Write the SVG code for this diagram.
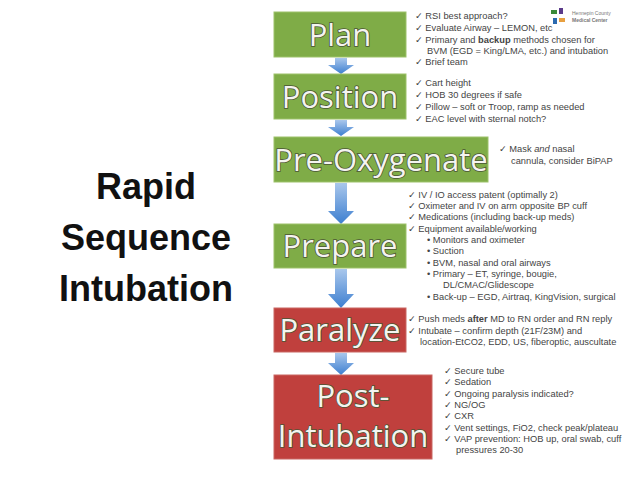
<svg xmlns="http://www.w3.org/2000/svg" width="638" height="479" viewBox="0 0 638 479">
<style>
.g{fill:#7fac47;stroke:#9dc26a;stroke-width:1}
.r{fill:#c0403d;stroke:#c96663;stroke-width:1}
.lbl{font-family:"Open Sans","Liberation Sans",sans-serif;font-size:31px;fill:#f4f4f0;stroke:#4a5535;stroke-width:1.6;paint-order:stroke;text-anchor:middle}
.t{font-family:"Liberation Sans","DejaVu Sans",sans-serif;font-size:9.3px;fill:#444}
.title{font-family:"Liberation Sans",sans-serif;font-size:36px;font-weight:bold;fill:#111;text-anchor:middle}
.ar{fill:url(#bg)}
</style>
<defs>
<linearGradient id="bg" x1="0" y1="0" x2="0" y2="1"><stop offset="0" stop-color="#a9c7ec"/><stop offset="1" stop-color="#3d7fd0"/></linearGradient>
</defs>
<rect width="638" height="479" fill="#fff"/>
<g id="title"><text class="title" x="146" y="199">Rapid</text><text class="title" x="146" y="250">Sequence</text><text class="title" x="146" y="301">Intubation</text></g>
<g id="connectors">
<path class="ar" d="M335 58h12v7h7l-13 9-13-9h7z"/>
<path class="ar" d="M335 120h12v7h7l-13 9-13-9h7z"/>
<path class="ar" d="M335 183h12v28h7l-13 13-13-13h7z"/>
<path class="ar" d="M335 269h12v25h7l-13 14-13-14h7z"/>
<path class="ar" d="M335 353h12v10h7l-13 12-13-12h7z"/>
</g>
<g id="plan"><rect class="g" x="274" y="12" width="132" height="45"/><text class="lbl" x="340" y="46">Plan</text></g>
<g id="position"><rect class="g" x="274" y="74" width="132" height="45"/><text class="lbl" x="340" y="108">Position</text></g>
<g id="preox"><rect class="g" x="274" y="137" width="214" height="45"/><text class="lbl" x="381" y="171">Pre-Oxygenate</text></g>
<g id="prepare"><rect class="g" x="274" y="224" width="132" height="44"/><text class="lbl" x="340" y="257">Prepare</text></g>
<g id="paralyze"><rect class="r" x="274" y="308" width="132" height="44"/><text class="lbl" x="340" y="341">Paralyze</text></g>
<g id="post"><rect class="r" x="274" y="375" width="158" height="84"/><text class="lbl" x="353" y="407">Post-</text><text class="lbl" x="353" y="447">Intubation</text></g>
<g id="logo">
<rect x="551" y="10" width="6" height="4" fill="#3a8a3a"/><rect x="559" y="8" width="4" height="6" fill="#5a3a8a"/>
<rect x="553" y="18" width="4" height="6" fill="#2a6ab0"/><rect x="559" y="18" width="6" height="4" fill="#e8a040"/>
<text x="572" y="15" font-family="Liberation Sans,sans-serif" font-size="5px" fill="#777">Hennepin County</text>
<text x="572" y="22" font-family="Liberation Sans,sans-serif" font-size="5px" font-weight="bold" fill="#777">Medical Center</text>
</g>
<g class="t">
<text x="415" y="19">✓  RSI best approach?</text>
<text x="415" y="31">✓  Evaluate Airway – LEMON, etc</text>
<text x="415" y="43">✓  Primary and <tspan font-weight="bold">backup</tspan> methods chosen for</text>
<text x="427" y="54">BVM (EGD = King/LMA, etc.) and intubation</text>
<text x="415" y="65">✓  Brief team</text>
<text x="415" y="86">✓  Cart height</text>
<text x="415" y="98">✓  HOB 30 degrees  if safe</text>
<text x="415" y="110">✓  Pillow – soft or Troop, ramp as needed</text>
<text x="415" y="122">✓  EAC level with sternal notch?</text>
<text x="499" y="152">✓  Mask <tspan font-style="italic">and</tspan> nasal</text>
<text x="511" y="164">cannula, consider BiPAP</text>
<text x="408" y="198">✓  IV / IO access patent (optimally 2)</text>
<text x="408" y="209">✓  Oximeter and IV on arm opposite  BP cuff</text>
<text x="408" y="220">✓  Medications (including back-up meds)</text>
<text x="408" y="232">✓  Equipment available/working</text>
<text x="427" y="243">•    Monitors and oximeter</text>
<text x="427" y="254">•    Suction</text>
<text x="427" y="266">•    BVM, nasal and oral airways</text>
<text x="427" y="277">•    Primary – ET, syringe, bougie,</text>
<text x="443" y="288">DL/CMAC/Glidescope</text>
<text x="427" y="300">•    Back-up – EGD, Airtraq, KingVision, surgical</text>
<text x="408" y="322">✓  Push meds <tspan font-weight="bold">after</tspan> MD to RN order and RN reply</text>
<text x="408" y="334">✓  Intubate – confirm depth (21F/23M) and</text>
<text x="420" y="345">location-EtCO2, EDD, US, fiberoptic, auscultate</text>
<text x="444" y="374">✓  Secure tube</text>
<text x="444" y="385">✓  Sedation</text>
<text x="444" y="397">✓  Ongoing paralysis indicated?</text>
<text x="444" y="408">✓  NG/OG</text>
<text x="444" y="419">✓  CXR</text>
<text x="444" y="431">✓  Vent settings, FiO2, check peak/plateau</text>
<text x="444" y="442">✓  VAP prevention:  HOB up, oral swab, cuff</text>
<text x="456" y="453">pressures  20-30</text>
</g>
</svg>
